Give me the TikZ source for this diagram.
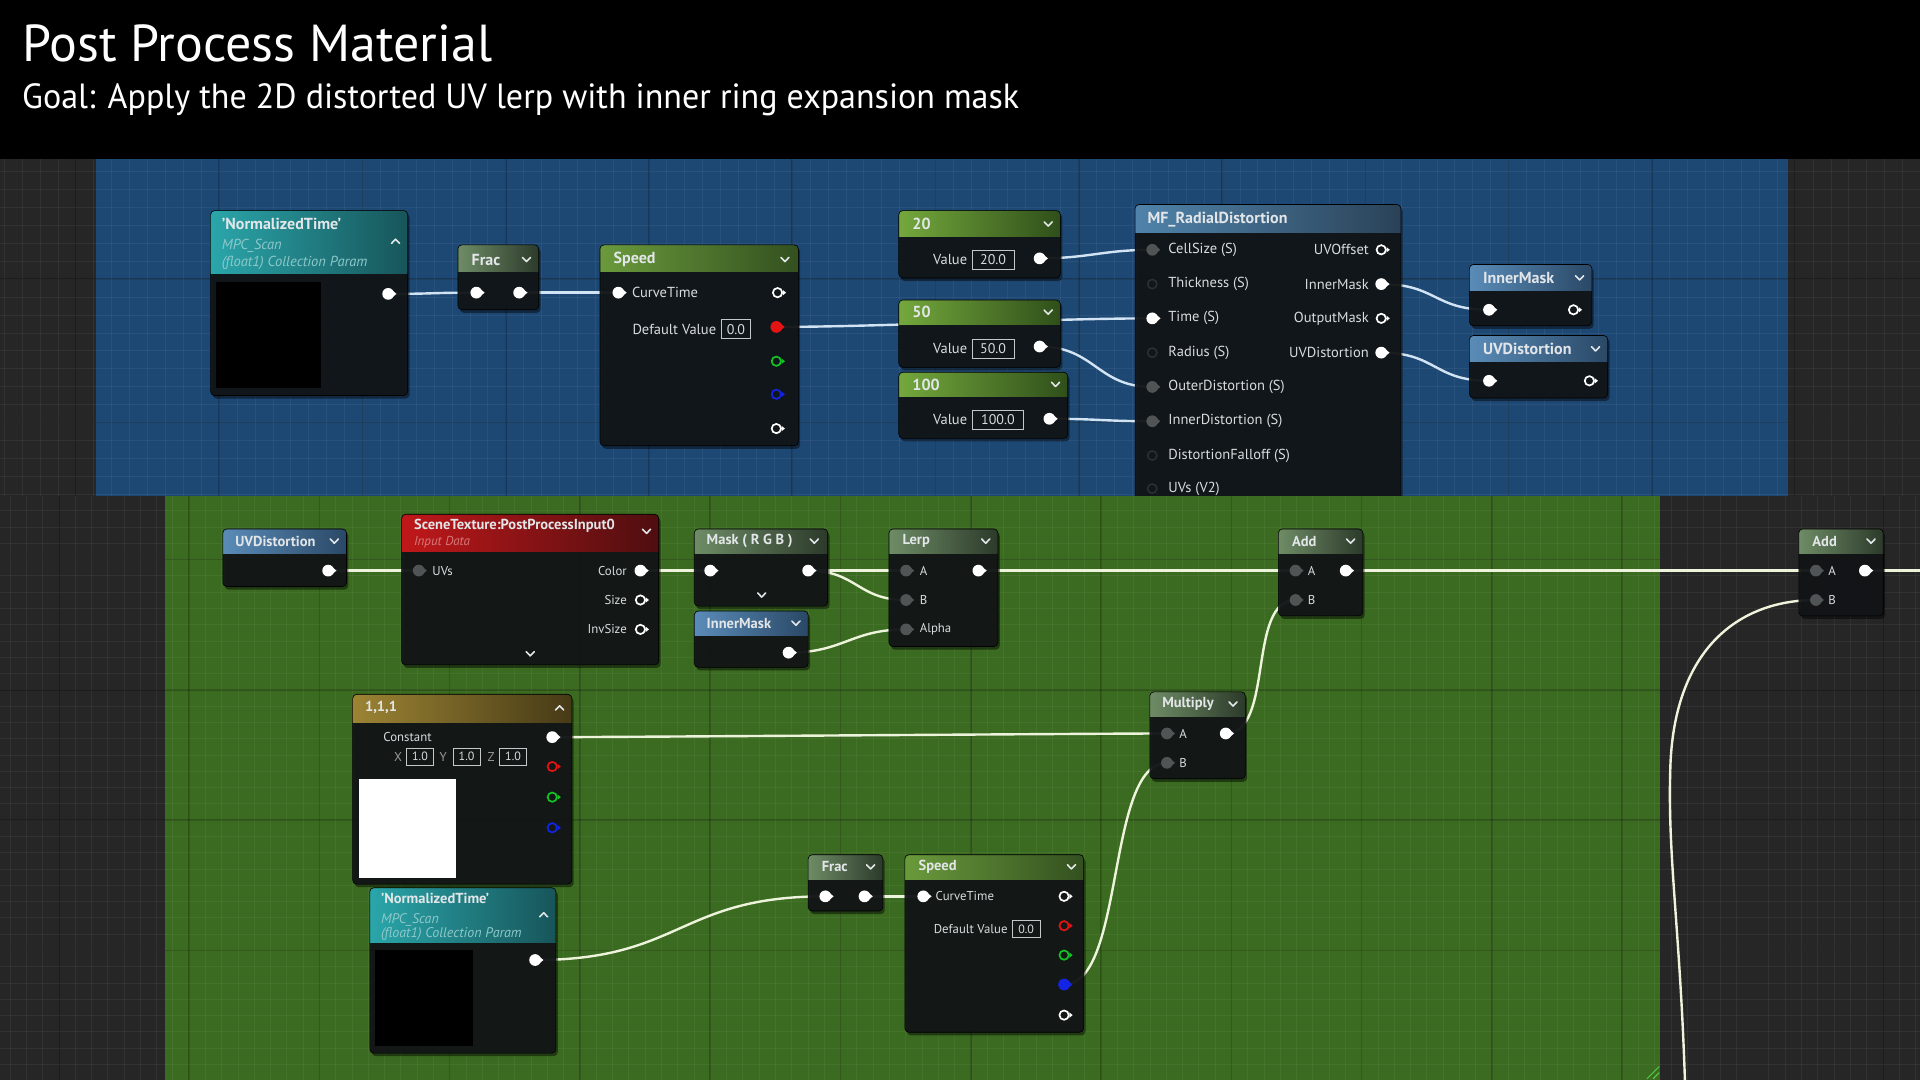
\documentclass[tikz,border=0pt]{standalone}
\usepackage{fontspec}
\setmainfont{PT Sans}
\usetikzlibrary{fit}

\definecolor{bgdark}{HTML}{262626}
\definecolor{cblue}{HTML}{1E4874}
\definecolor{cgreen}{HTML}{3A6B20}
\definecolor{bodyc}{HTML}{121517}
\definecolor{wireTc}{HTML}{D2E4F4}
\definecolor{wireBc}{HTML}{EEF4DC}
\definecolor{hdrtxt}{HTML}{E2E6E8}
\definecolor{lbltxt}{HTML}{D8DCDE}
\definecolor{boxc}{HTML}{C4C8CA}
\definecolor{tealsub}{HTML}{8CC8CA}
\definecolor{redsub}{HTML}{D87878}
\definecolor{pingray}{HTML}{505455}
\definecolor{pindark}{HTML}{2C3034}
\definecolor{pred}{HTML}{E41414}
\definecolor{pgreen}{HTML}{14C424}
\definecolor{pblue}{HTML}{1424E4}
\definecolor{hTealL}{HTML}{2AA6AA}\definecolor{hTealR}{HTML}{17555A}
\definecolor{hFnL}{HTML}{6E8C66}\definecolor{hFnR}{HTML}{2C3A2A}
\definecolor{hSpL}{HTML}{6A9A3C}\definecolor{hSpR}{HTML}{33501F}
\definecolor{hCL}{HTML}{74A83C}\definecolor{hCR}{HTML}{2F4F1A}
\definecolor{hNmL}{HTML}{5A8CB8}\definecolor{hNmR}{HTML}{2A4866}
\definecolor{hMfL}{HTML}{5083AA}\definecolor{hMfR}{HTML}{2A4258}
\definecolor{hRedL}{HTML}{C0181A}\definecolor{hRedR}{HTML}{4E0E10}
\definecolor{hGoldL}{HTML}{9C8434}\definecolor{hGoldR}{HTML}{463A16}

\tikzset{
  ubody/.style={fill=bodyc, fill opacity=0.92, rounded corners=4, inner sep=0pt, draw=none},
  wt/.style={draw=wireTc, line width=2.4pt},
  wb/.style={draw=wireBc, line width=2.4pt},
  hdA/.style={anchor=west, inner sep=0pt, text=hdrtxt, font=\fontsize{16}{16}\selectfont\bfseries},
  hdB/.style={anchor=west, inner sep=0pt, text=hdrtxt, font=\fontsize{14.5}{14.5}\selectfont\bfseries},
  lbA/.style={anchor=west, inner sep=0pt, text=lbltxt, font=\fontsize{14.5}{14.5}\selectfont},
  lbAr/.style={lbA, anchor=east},
  lbB/.style={anchor=west, inner sep=0pt, text=lbltxt, font=\fontsize{12.8}{12.8}\selectfont},
  lbBr/.style={lbB, anchor=east},
  lbBc/.style={lbB, anchor=center, text=gray!80!white},
  subT/.style={anchor=west, inner sep=0pt, text=tealsub, font=\fontsize{14.5}{14.5}\selectfont\itshape},
  subTb/.style={subT, font=\fontsize{14}{14}\selectfont\itshape},
  vbox/.style={draw=boxc, line width=0.9pt, inner sep=0pt, minimum height=19pt, text=lbltxt, font=\fontsize{14}{14}\selectfont},
  vboxs/.style={vbox, minimum height=17pt, font=\fontsize{12}{12}\selectfont},
  chevs/.style={draw=hdrtxt, line width=1.6pt, line cap=round, line join=round},
  gmin/.style={draw=white, opacity=0.05, line width=0.8pt},
  gmaj/.style={draw=black, opacity=0.22, line width=1.6pt},
}

% name, x1, y1, x2, y2, header bottom, left colour, right colour
\newcommand{\ubox}[8]{%
  \fill[black, opacity=0.45, rounded corners=4] (#2+1.5,#3+2.5) rectangle (#4+1.5,#5+2.5);
  \node[ubody, fit={(#2,#3) (#4,#5)}] (#1) {};
  \begin{scope}
    \clip[rounded corners=4] (#2,#3) rectangle (#4,#5);
    \shade[left color=#7, right color=#8] (#2,#3) rectangle (#4,#6);
  \end{scope}
  \draw[black, line width=0.6pt, rounded corners=4] (#2,#3) rectangle (#4,#5);
}
\newcommand{\pF}[2][white]{\fill[#1] (#2) circle (4.8); \fill[#1, shift={(#2)}] (3.4,-2.8) -- (6.8,0) -- (3.4,2.8) -- cycle;}
\newcommand{\pH}[2][white]{\draw[#1, line width=1.7pt] (#2) circle (3.8); \fill[#1, shift={(#2)}] (4.3,-2.2) -- (7,0) -- (4.3,2.2) -- cycle;}
\newcommand{\pG}[1]{\fill[pingray] (#1) circle (4.8); \fill[pingray, shift={(#1)}] (3.6,-2.5) -- (6.6,0) -- (3.6,2.5) -- cycle;}
\newcommand{\pD}[1]{\draw[pindark, line width=1.5pt] (#1) circle (3.8);}
\newcommand{\chv}[1]{\draw[chevs, shift={(#1)}] (-3.3,-1.8) -- (0,1.6) -- (3.3,-1.8);}
\newcommand{\crt}[1]{\draw[chevs, shift={(#1)}] (-3.3,1.8) -- (0,-1.6) -- (3.3,1.8);}
\newcommand{\wire}[4][40]{\draw[#2] (#3) .. controls +(#1,0) and +(-#1,0) .. (#4);}

\begin{document}
\begin{tikzpicture}[x=1.22449pt,y=-1.22449pt]
\useasboundingbox (0,0) rectangle (1568,882);

% ---------- backgrounds ----------
\fill[bgdark] (0,0) rectangle (1568,882);
\fill[cblue] (78,130) rectangle (1460,405);
\fill[cgreen] (135,405) rectangle (1356,882);

% ---------- grids ----------
\begin{scope}
\clip (0,130) rectangle (1568,405);
\foreach \k in {-5,...,103} \draw[gmin] ({62+\k*14.625},130) -- ({62+\k*14.625},405);
\foreach \k in {-1,...,20} \draw[gmin] (0,{111+\k*14.625}) -- (1568,{111+\k*14.625});
\foreach \k in {-1,...,13} \draw[gmaj] ({62+\k*117},130) -- ({62+\k*117},405);
\foreach \k in {0,...,3} \draw[gmaj] (0,{111+\k*117}) -- (1568,{111+\k*117});
\end{scope}
\begin{scope}
\clip (0,405) rectangle (1568,882);
\foreach \k in {-4,...,115} \draw[gmin] ({48+\k*13.3},405) -- ({48+\k*13.3},882);
\foreach \k in {-5,...,32} \draw[gmin] (0,{457+\k*13.3}) -- (1568,{457+\k*13.3});
\foreach \k in {0,...,14} \draw[gmaj] ({48+\k*106.4},405) -- ({48+\k*106.4},882);
\foreach \k in {-1,...,4} \draw[gmaj] (0,{457+\k*106.4}) -- (1568,{457+\k*106.4});
\end{scope}

% ---------- pin coordinates ----------
\coordinate (ntA-o) at (317,240);
\coordinate (frA-i) at (389,239); \coordinate (frA-o) at (424,239);
\coordinate (spA-i) at (505,239); \coordinate (spA-o) at (635,239);
\coordinate (spA-r) at (634,267); \coordinate (spA-g) at (634,295);
\coordinate (spA-b) at (634,322); \coordinate (spA-a) at (634,350);
\coordinate (c20-o) at (849,211); \coordinate (c50-o) at (849,283); \coordinate (c100-o) at (857,342);
\coordinate (mf-cell) at (941,204); \coordinate (mf-thick) at (941,232);
\coordinate (mf-time) at (941,260); \coordinate (mf-rad) at (941,288);
\coordinate (mf-outer) at (941,316); \coordinate (mf-inner) at (941,344);
\coordinate (mf-fall) at (941,372); \coordinate (mf-uvs) at (941,399);
\coordinate (mf-uvo) at (1128,204); \coordinate (mf-im) at (1128,232);
\coordinate (mf-om) at (1128,260); \coordinate (mf-uvd) at (1128,288);
\coordinate (imA-i) at (1216,253); \coordinate (imA-o) at (1285,253);
\coordinate (uvA-i) at (1216,311); \coordinate (uvA-o) at (1298,311);

\coordinate (uvB-o) at (268,466); \coordinate (st-uv) at (342,466);
\coordinate (st-c) at (523,466); \coordinate (st-s) at (523,490); \coordinate (st-is) at (523,514);
\coordinate (mk-i) at (580,466); \coordinate (mk-o) at (660,466); \coordinate (imB-o) at (644,533);
\coordinate (lp-a) at (740,466); \coordinate (lp-b) at (740,490); \coordinate (lp-al) at (740,514); \coordinate (lp-o) at (799,466);
\coordinate (a1-a) at (1058,466); \coordinate (a1-b) at (1058,490); \coordinate (a1-o) at (1099,466);
\coordinate (a2-a) at (1483,466); \coordinate (a2-b) at (1483,490); \coordinate (a2-o) at (1523,466);
\coordinate (ct-o) at (451,602); \coordinate (ct-r) at (451,626); \coordinate (ct-g) at (451,651); \coordinate (ct-b) at (451,676);
\coordinate (ntB-o) at (437,784); \coordinate (frB-i) at (674,732); \coordinate (frB-o) at (706,732);
\coordinate (spB-i) at (754,732); \coordinate (spB-o) at (869,732); \coordinate (spB-r) at (869,756);
\coordinate (spB-g) at (869,780); \coordinate (spB-b) at (869,804); \coordinate (spB-a) at (869,829);
\coordinate (mu-a) at (953,599); \coordinate (mu-b) at (953,623); \coordinate (mu-o) at (1001,599);
\coordinate (edgeR) at (1568,466); \coordinate (edgeB) at (1376,882);

% ---------- top wires ----------
\wire{wt}{ntA-o}{frA-i}
\wire{wt}{frA-o}{spA-i}
\wire[80]{wt}{spA-r}{mf-time}
\wire{wt}{c20-o}{mf-cell}
\wire[45]{wt}{c50-o}{mf-outer}
\wire{wt}{c100-o}{mf-inner}
\wire[45]{wt}{mf-im}{imA-i}
\wire[45]{wt}{mf-uvd}{uvA-i}

% ---------- top nodes ----------
\ubox{ntA}{172}{172}{333}{323}{223}{hTealL}{hTealR}
\node[hdA] (ntA-t) at (181,183) {'NormalizedTime'};
\node[subT] (ntA-s1) at (181,201) {MPC\_Scan};
\node[subT] (ntA-s2) at (181,215) {(float1) Collection Param};
\crt{323,197}
\fill[black] (176,230) rectangle (262,317);

\ubox{frA}{374}{200}{440}{253}{222}{hFnL}{hFnR}
\node[hdA] (frA-t) at (385,212) {Frac};
\chv{430,212}

\ubox{spA}{490}{200}{652}{364}{222}{hSpL}{hSpR}
\node[hdA] (spA-t) at (501,212) {Speed};
\chv{641,212}
\node[lbA] (spA-l1) at (516,239) {CurveTime};
\node[lbAr] (spA-l2) at (585,269) {Default Value};
\node[vbox, minimum width=29pt] (spA-v) at (601,269) {0.0};

\ubox{c20}{734}{172}{866}{227}{193}{hCL}{hCR}
\node[hdA] (c20-t) at (745,183) {20};
\chv{856,183}
\node[lbAr] (c20-l) at (790,212) {Value};
\node[vbox, minimum width=42pt] (c20-v) at (811,212) {20.0};

\ubox{c50}{734}{245}{866}{300}{265}{hCL}{hCR}
\node[hdA] (c50-t) at (745,255) {50};
\chv{856,255}
\node[lbAr] (c50-l) at (790,285) {Value};
\node[vbox, minimum width=42pt] (c50-v) at (811,285) {50.0};

\ubox{c100}{734}{304}{872}{358}{324}{hCL}{hCR}
\node[hdA] (c100-t) at (745,314) {100};
\chv{862,314}
\node[lbAr] (c100-l) at (790,343) {Value};
\node[vbox, minimum width=51pt] (c100-v) at (815,343) {100.0};

\begin{scope}
\clip (0,130) rectangle (1568,405);
\ubox{mf}{927}{167}{1144}{430}{190}{hMfL}{hMfR}
\end{scope}
\node[hdA] (mf-t) at (937,179) {MF\_RadialDistortion};
\node[lbA] (mf-l1) at (954,204) {CellSize (S)};
\node[lbA] (mf-l2) at (954,232) {Thickness (S)};
\node[lbA] (mf-l3) at (954,260) {Time (S)};
\node[lbA] (mf-l4) at (954,288) {Radius (S)};
\node[lbA] (mf-l5) at (954,316) {OuterDistortion (S)};
\node[lbA] (mf-l6) at (954,344) {InnerDistortion (S)};
\node[lbA] (mf-l7) at (954,372) {DistortionFalloff (S)};
\node[lbA] (mf-l8) at (954,399) {UVs (V2)};
\node[lbAr] (mf-r1) at (1118,204) {UVOffset};
\node[lbAr] (mf-r2) at (1118,232) {InnerMask};
\node[lbAr] (mf-r3) at (1118,260) {OutputMask};
\node[lbAr] (mf-r4) at (1118,288) {UVDistortion};

\ubox{imA}{1200}{216}{1300}{266}{237}{hNmL}{hNmR}
\node[hdA] (imA-t) at (1211,227) {InnerMask};
\chv{1290,227}

\ubox{uvA}{1200}{274}{1313}{325}{295}{hNmL}{hNmR}
\node[hdA] (uvA-t) at (1211,285) {UVDistortion};
\chv{1303,285}

% ---------- top pins ----------
\pF{ntA-o}
\pF{frA-i} \pF{frA-o}
\pF{spA-i} \pH{spA-o} \pF[pred]{spA-r} \pH[pgreen]{spA-g} \pH[pblue]{spA-b} \pH{spA-a}
\pF{c20-o} \pF{c50-o} \pF{c100-o}
\pG{mf-cell} \pD{mf-thick} \pF{mf-time} \pD{mf-rad} \pG{mf-outer} \pG{mf-inner} \pD{mf-fall} \pD{mf-uvs}
\pH{mf-uvo} \pF{mf-im} \pH{mf-om} \pF{mf-uvd}
\pF{imA-i} \pH{imA-o}
\pF{uvA-i} \pH{uvA-o}

% ---------- green comment (covers bottom of MF node) ----------
\begin{scope}
\clip (135,405) rectangle (1356,882);
\fill[cgreen] (135,405) rectangle (1356,882);
\foreach \k in {-4,...,115} \draw[gmin] ({48+\k*13.3},405) -- ({48+\k*13.3},882);
\foreach \k in {-5,...,32} \draw[gmin] (0,{457+\k*13.3}) -- (1568,{457+\k*13.3});
\foreach \k in {0,...,14} \draw[gmaj] ({48+\k*106.4},405) -- ({48+\k*106.4},882);
\foreach \k in {-1,...,4} \draw[gmaj] (0,{457+\k*106.4}) -- (1568,{457+\k*106.4});
\end{scope}
\draw[green!65!white, opacity=0.7, line width=1pt] (1345,881) -- (1355,871) (1350,881) -- (1355,876);

% ---------- bottom wires ----------
\wire{wb}{uvB-o}{st-uv}
\wire{wb}{st-c}{mk-i}
\wire{wb}{mk-o}{lp-a}
\wire[40]{wb}{mk-o}{lp-b}
\wire[45]{wb}{imB-o}{lp-al}
\wire{wb}{lp-o}{a1-a}
\wire[50]{wb}{ct-o}{mu-a}
\wire[120]{wb}{ntB-o}{frB-i}
\wire{wb}{frB-o}{spB-i}
\wire[50]{wb}{spB-b}{mu-b}
\wire[40]{wb}{mu-o}{a1-b}
\wire{wb}{a1-o}{a2-a}
\draw[wb] (a2-o) -- (edgeR);
\draw[wb] (edgeB) .. controls (1372,760) and (1362,700) .. (1364,630) .. controls (1366,530) and (1420,490) .. (a2-b);

% ---------- bottom nodes ----------
\ubox{uvB}{182}{432}{283}{479}{452}{hNmL}{hNmR}
\node[hdB] (uvB-t) at (192,442) {UVDistortion};
\chv{273,442}

\ubox{st}{328}{420}{538}{543}{450}{hRedL}{hRedR}
\node[hdB] (st-t) at (338,429) {SceneTexture:PostProcessInput0};
\node[anchor=west, inner sep=0pt, text=redsub, font=\fontsize{13}{13}\selectfont\itshape] (st-s1) at (338,443) {Input Data};
\chv{528,434}
\node[lbB] (st-l1) at (353,466) {UVs};
\node[lbBr] (st-r1) at (512,466) {Color};
\node[lbBr] (st-r2) at (512,490) {Size};
\node[lbBr] (st-r3) at (512,514) {InvSize};
\chv{433,534}

\ubox{mk}{567}{432}{676}{495}{452}{hFnL}{hFnR}
\node[hdB] (mk-t) at (577,442) {Mask ( R G B )};
\chv{665,442}
\chv{622,486}

\ubox{imB}{567}{499}{660}{545}{519}{hNmL}{hNmR}
\node[hdB] (imB-t) at (577,509) {InnerMask};
\chv{650,509}

\ubox{lp}{726}{432}{815}{528}{452}{hFnL}{hFnR}
\node[hdB] (lp-t) at (737,442) {Lerp};
\chv{805,442}
\node[lbB] (lp-l1) at (751,466) {A};
\node[lbB] (lp-l2) at (751,490) {B};
\node[lbB] (lp-l3) at (751,514) {Alpha};

\ubox{a1}{1044}{432}{1113}{503}{452}{hFnL}{hFnR}
\node[hdB] (a1-t) at (1055,442) {Add};
\chv{1103,442}
\node[lbB] (a1-l1) at (1068,466) {A};
\node[lbB] (a1-l2) at (1068,490) {B};

\ubox{a2}{1469}{432}{1538}{503}{452}{hFnL}{hFnR}
\node[hdB] (a2-t) at (1480,442) {Add};
\chv{1528,442}
\node[lbB] (a2-l1) at (1493,466) {A};
\node[lbB] (a2-l2) at (1493,490) {B};

\ubox{ct}{288}{567}{467}{722}{590}{hGoldL}{hGoldR}
\node[hdB] (ct-t) at (298,578) {1,1,1};
\crt{457,578}
\node[lbB] (ct-l) at (313,602) {Constant};
\node[lbBc] (ct-x) at (325,618) {X};
\node[vboxs, minimum width=27pt] (ct-vx) at (343,618) {1.0};
\node[lbBc] (ct-y) at (362,618) {Y};
\node[vboxs, minimum width=27pt] (ct-vy) at (381,618) {1.0};
\node[lbBc] (ct-z) at (401,618) {Z};
\node[vboxs, minimum width=27pt] (ct-vz) at (419,618) {1.0};
\fill[white] (293,636) rectangle (372,717);

\ubox{ntB}{302}{725}{454}{860}{770}{hTealL}{hTealR}
\node[hdB] (ntB-t) at (311,734) {'NormalizedTime'};
\node[subTb] (ntB-s1) at (311,751) {MPC\_Scan};
\node[subTb] (ntB-s2) at (311,763) {(float1) Collection Param};
\crt{444,747}
\fill[black] (306,776) rectangle (386,854);

\ubox{frB}{660}{698}{721}{744}{718}{hFnL}{hFnR}
\node[hdB] (frB-t) at (671,708) {Frac};
\chv{711,708}

\ubox{spB}{739}{698}{885}{843}{718}{hSpL}{hSpR}
\node[hdB] (spB-t) at (750,708) {Speed};
\chv{875,708}
\node[lbB] (spB-l1) at (764,732) {CurveTime};
\node[lbBr] (spB-l2) at (823,759) {Default Value};
\node[vboxs, minimum width=28pt] (spB-v) at (838,759) {0.0};

\ubox{mu}{939}{565}{1017}{636}{585}{hFnL}{hFnR}
\node[hdB] (mu-t) at (949,575) {Multiply};
\chv{1007,575}
\node[lbB] (mu-l1) at (963,599) {A};
\node[lbB] (mu-l2) at (963,623) {B};

% ---------- bottom pins ----------
\pF{uvB-o}
\pG{st-uv} \pF{st-c} \pH{st-s} \pH{st-is}
\pF{mk-i} \pF{mk-o} \pF{imB-o}
\pG{lp-a} \pG{lp-b} \pG{lp-al} \pF{lp-o}
\pG{a1-a} \pG{a1-b} \pF{a1-o}
\pG{a2-a} \pG{a2-b} \pF{a2-o}
\pF{ct-o} \pH[pred]{ct-r} \pH[pgreen]{ct-g} \pH[pblue]{ct-b}
\pF{ntB-o}
\pF{frB-i} \pF{frB-o}
\pF{spB-i} \pH{spB-o} \pH[pred]{spB-r} \pH[pgreen]{spB-g} \pF[pblue]{spB-b} \pH{spB-a}
\pG{mu-a} \pG{mu-b} \pF{mu-o}

% ---------- title band ----------
\fill[black] (0,0) rectangle (1568,130);
\node[anchor=base west, inner sep=0pt, text=white] (title) at (18,50)
  {\resizebox{470pt}{\height}{\fontsize{52}{52}\selectfont Post Process Material}};
\node[anchor=base west, inner sep=0pt, text=white] (subtitle) at (18,89)
  {\resizebox{997pt}{\height}{\fontsize{35}{35}\selectfont Goal: Apply the 2D distorted UV lerp with inner ring expansion mask}};
\end{tikzpicture}
\end{document}
